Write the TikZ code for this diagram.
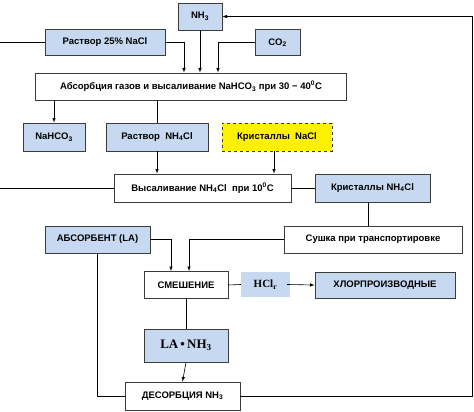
\documentclass[tikz,border=0pt]{standalone}
\usepackage{fontspec}
\setmainfont{Liberation Sans}
\newfontfamily\serifbold{Liberation Serif}
\usetikzlibrary{arrows}

\definecolor{boxblue}{RGB}{198,217,241}
\definecolor{boxline}{RGB}{60,60,60}

\tikzset{
  box/.style={draw=boxline, line width=0.8pt, fill=white, inner sep=0pt, align=center,
    font=\fontsize{9.5}{11}\selectfont\bfseries},
  bluebox/.style={box, fill=boxblue},
  yelbox/.style={box, fill=yellow, dashed},
  arr/.style={->, >=latex, line width=0.6pt},
  ln/.style={line width=0.6pt}
}

\begin{document}
\begin{tikzpicture}[x=1pt,y=-1pt]
\useasboundingbox (0,0) rectangle (474,412);

%top row
\node[bluebox, minimum width=44, minimum height=27] (nh3) at (200,16.5) {NH\textsubscript{3}};
\node[bluebox, minimum width=120, minimum height=26] (nacl) at (105,42.5) {Раствор 25\% NaCl};
\node[bluebox, minimum width=45, minimum height=26] (co2) at (277.5,42.5) {CO\textsubscript{2}};
\node[box, minimum width=311, minimum height=27] (absorb) at (191,86.5) {Абсорбция газов и высаливание NaHCO\textsubscript{3} при 30 − 40\textsuperscript{0}C};

%second row
\node[bluebox, minimum width=62, minimum height=28] (nahco3) at (54,137) {NaHCO\textsubscript{3}};
\node[bluebox, minimum width=102, minimum height=28] (rnh4cl) at (157,137) {Раствор\ \ NH\textsubscript{4}Cl};
\node[yelbox, minimum width=110, minimum height=28] (crnacl) at (277,137) {Кристаллы\ \ NaCl};

%salting out
\node[box, minimum width=177, minimum height=28] (salt) at (202.5,188) {Высаливание NH\textsubscript{4}Cl\ \ при 10\textsuperscript{0}C};
\node[bluebox, minimum width=115, minimum height=28] (crnh4cl) at (372.5,188) {Кристаллы NH\textsubscript{4}Cl};

%absorbent and drying
\node[bluebox, minimum width=105, minimum height=27] (absent) at (97.5,239.5) {АБСОРБЕНТ (LA)};
\node[box, minimum width=178, minimum height=27] (dry) at (373,239.5) {Сушка при транспортировке};

%mixing
\node[box, minimum width=84, minimum height=27] (mix) at (186,285) {СМЕШЕНИЕ};
\node[fill=boxblue, inner sep=0pt, minimum width=49, minimum height=25, font=\serifbold\fontsize{11}{12}\selectfont\bfseries] (hcl) at (265.5,284.5) {HCl\textsubscript{г}};
\node[bluebox, minimum width=140, minimum height=26] (chlor) at (385,285) {ХЛОРПРОИЗВОДНЫЕ};

%desorption
\node[bluebox, minimum width=84, minimum height=33, font=\serifbold\fontsize{13}{14}\selectfont\bfseries] (lanh3) at (186,345.5) {LA\,•\,NH\textsubscript{3}};
\node[box, minimum width=115, minimum height=28] (desorb) at (182.5,396) {ДЕСОРБЦИЯ NH\textsubscript{3}};

\coordinate (inl) at (0,42.5);
\coordinate (inr) at (0,188);
\coordinate (rc) at (472.5,0);

%connectors
\draw[ln] (inl) -- (nacl.west);
\draw[arr] (nacl.east) -| ([xshift=-7pt]absorb.north);
\draw[arr] (nh3.south) -- (nh3.south |- absorb.north);
\draw[arr] (co2.west) -| ([xshift=27pt]absorb.north);

\draw[arr] (nahco3.north |- absorb.south) -- (nahco3.north);
\draw[ln] (rnh4cl.north |- absorb.south) -- (rnh4cl.north);
\draw[arr] (rnh4cl.south) -- (rnh4cl.south |- salt.north);
\draw[arr] ([xshift=-3pt]crnacl.south) -- ([xshift=-3pt]crnacl.south |- salt.north);

\draw[ln] (inr) -- (salt.west);
\draw[ln] (salt.east) -- (crnh4cl.west);
\draw[ln] ([xshift=-4pt]crnh4cl.south) -- ([xshift=-4pt]crnh4cl.south |- dry.north);

\draw[arr] (absent.east) -| ([xshift=-15pt]mix.north);
\draw[arr] (dry.west) -| ([xshift=3pt]mix.north);
\draw[ln] (mix.east) -- (hcl.west);
\draw[arr] ([xshift=-3pt]hcl.east) -- (chlor.west);

\draw[ln] (absent.south) |- (desorb.west);
\draw[ln] (mix.south) -- (lanh3.north);
\draw[arr] (lanh3.south) -- (desorb.north);
\draw[arr] (desorb.east) -| (rc |- nh3.east) -- (nh3.east);
\end{tikzpicture}
\end{document}
